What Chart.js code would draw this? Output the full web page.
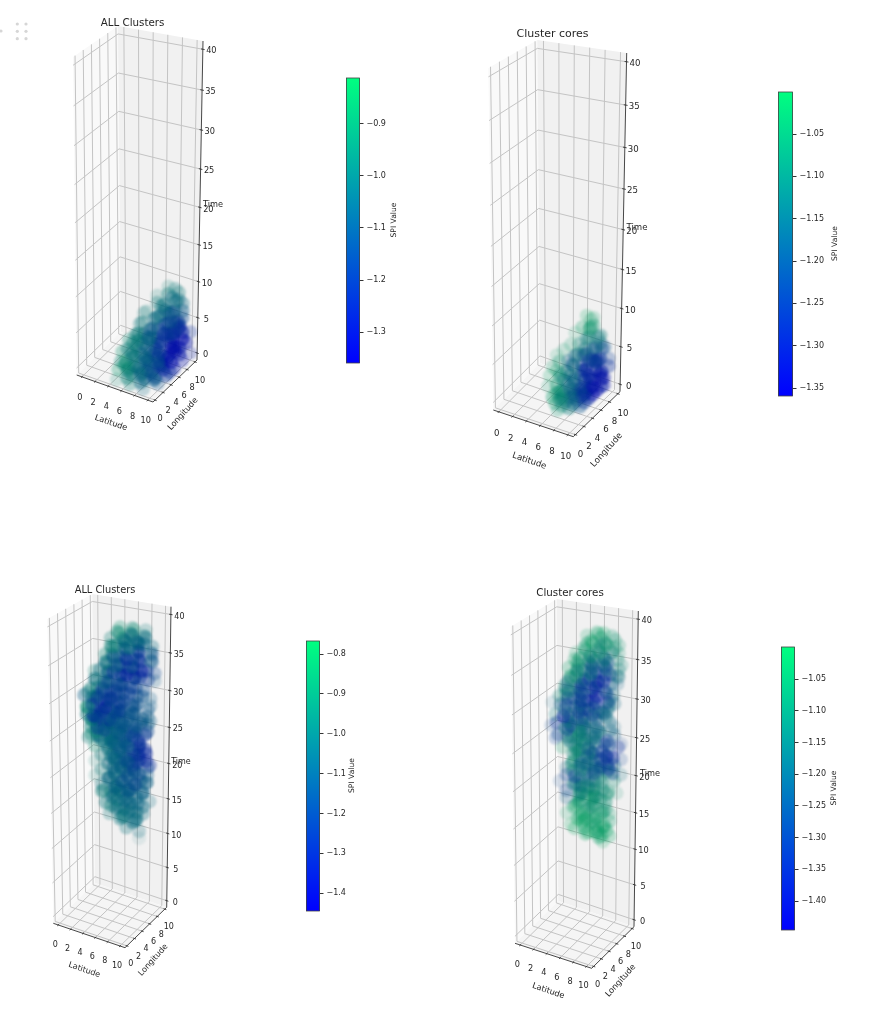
<!DOCTYPE html>
<html>
<head>
<meta charset="utf-8">
<title>SPI clusters</title>
<script src="https://cdn.jsdelivr.net/npm/chart.js@4"></script>
<style>
  html, body { margin: 0; background: #fff; }
  #page { position: relative; width: 869px; height: 1023px; overflow: hidden; }
  canvas { position: absolute; filter: blur(0.3px); }
</style>
</head>
<body>
<div id="page"><canvas id="boxes" width="869" height="1023" style="left:0;top:0"></canvas></div>
<script>
// ── Axis ticks ───────────────────────────────
const latTicks = [0, 2, 4, 6, 8, 10];
const lonTicks = [0, 2, 4, 6, 8, 10];
const timeTicks = [0, 5, 10, 15, 20, 25, 30, 35, 40];

// ── Panel 1: ALL Clusters (early events) ─────
const p1Time = [0,0,0,0,0,0,0,0,0,0,0,0,0,0,0,0,0, 2,2,2,2,2,2,2,2,2,2,2,2,2,2, 4,4,4,4,4,4,4,4,4,4,4,4, 6,6,6,6,6,6,6,6,6,6, 8,8,8,8,8,8, 10,10,10, 11,11];
const p1Lat = [5,7,9,4,6,8,10,4,6,8,10,6,8,10,8,10,10, 5,7,9,4,6,8,10,5,7,9,7,9,10,8, 6,8,5,7,9,6,8,10,7,9,9,10, 7,9,6,8,10,7,9,8,10,10, 7,9,8,10,9,10, 8,9,10, 9,10];
const p1Lon = [0,0,0,2,2,2,2,4,4,4,4,6,6,6,8,8,10, 1,1,1,3,3,3,3,5,5,5,7,7,9,9, 1,1,3,3,3,5,5,5,7,7,9,8, 2,2,4,4,4,6,6,8,7,8, 4,4,6,6,8,8, 5,6,7, 6,6];
const p1Spi = [-0.95,-0.98,-1.05,-0.9,-1,-1.08,-1.12,-0.92,-1.02,-1.12,-1.2,-1.05,-1.2,-1.3,-1.25,-1.33,-1.3,
  -0.95,-1.02,-1.1,-0.92,-1.02,-1.1,-1.2,-1.02,-1.12,-1.28,-1.2,-1.33,-1.32,-1.28,
  -1,-1.05,-0.95,-1.05,-1.15,-1.05,-1.18,-1.27,-1.15,-1.3,-1.25,-1.28,
  -1,-1.05,-1,-1.08,-1.15,-1.05,-1.18,-1.12,-1.2,-1.15,
  -0.98,-1.02,-1.02,-1.08,-1.02,-1.05, -0.98,-1,-1, -0.98,-1];
const p1OddTime = [0,0,0,0,0,0,0,0,0,0,0, 1,1,1,1,1,1,1,1,1,1,1,1,1, 3,3,3,3,3,3,3,3,3,3,3,3, 5,5,5,5,5,5,5,5,5, 7,7,7,7,7,7,7, 9,9,9,9];
const p1OddLat = [6,8,5,7,9,10,7,9,9,7,9, 6,8,10,5,7,9,5,7,9,7,9,9,9, 6,8,10,5,7,9,6,8,10,8,10,10, 7,6,8,7,9,8,10,9,10, 7,8,10,9,10,8,6, 8,9,9,10];
const p1OddLon = [1,1,3,3,3,5,5,5,7,7,9, 1,1,1,2,2,2,4,4,4,6,6,8,9, 2,2,2,4,4,4,6,6,6,8,8,10, 2,3,3,5,5,7,7,8,6, 3,5,5,7,8,7,5, 5,5,7,7];
const p1OddSpi = [-0.97,-1.05,-0.95,-1.05,-1.15,-1.25,-1.12,-1.25,-1.33,-1.18,-1.3,
  -0.98,-1.05,-1.1,-0.95,-1.05,-1.12,-1,-1.1,-1.2,-1.15,-1.3,-1.33,-1.3,
  -1,-1.06,-1.12,-0.98,-1.08,-1.2,-1.1,-1.22,-1.32,-1.22,-1.33,-1.25,
  -1,-0.98,-1.06,-1.1,-1.22,-1.18,-1.25,-1.2,-1.2,
  -1,-1.05,-1.12,-1.12,-1.1,-1.08,-1, -1,-1.02,-1.05,-1.05];

// ── Panel 2: Cluster cores (early events) ────
const p2Time = [0,0,0,0,0,0,0,0,0,0,0,0,0, 2,2,2,2,2,2,2,2,2,2,2,2, 4,4,4,4,4,4,4,4,4, 6,6,6,6,6,6, 8,8,8,8, 10,10];
const p2Lat = [6,7,8,5,7,9,6,8,9,7,8,9,9, 5,7,4,6,8,9,5,7,9,7,9,10, 5,7,9,6,8,10,7,9,10, 6,8,10,7,9,10, 7,9,8,10, 8,9];
const p2Lon = [3,2,3,4,4,4,5,5,6,6,7,8,9, 3,3,5,5,4,5,6,6,7,8,9,8, 4,4,4,6,6,6,8,8,9, 5,5,5,7,7,8, 6,6,8,7, 7,7];
const p2Spi = [-1.06,-1.06,-1.12,-1.05,-1.14,-1.2,-1.1,-1.2,-1.3,-1.2,-1.3,-1.34,-1.3,
  -1.05,-1.1,-1.04,-1.15,-1.18,-1.25,-1.12,-1.22,-1.34,-1.28,-1.32,-1.33,
  -1.05,-1.12,-1.18,-1.18,-1.25,-1.3,-1.22,-1.3,-1.25,
  -1.05,-1.12,-1.2,-1.1,-1.22,-1.2, -1.04,-1.1,-1.08,-1.12, -1.02,-1.04];
const p2OddTime = [0,0,0,0,0,0,0,0,0,0, 1,1,1,1,1,1,1,1,1,1,1,1, 3,3,3,3,3,3,3,3,3,3,3, 5,5,5,5,5,5,5,5,5, 7,7,7,7,7,7, 9,9,9,9];
const p2OddLat = [7,6,8,7,9,8,9,8,5,7, 6,8,7,5,7,9,6,8,8,9,9,10, 6,8,5,7,9,6,8,10,8,10,9, 6,8,7,9,5,8,10,9,10, 7,9,8,10,9,10, 8,9,8,9];
const p2OddLon = [3,4,4,5,5,6,7,8,5,7, 4,4,3,5,5,5,6,6,8,7,9,8, 4,4,5,5,5,7,7,7,9,9,6, 4,4,6,6,5,7,7,9,6, 5,5,7,6,8,7, 6,7,8,6];
const p2OddSpi = [-1.1,-1.1,-1.16,-1.16,-1.26,-1.26,-1.34,-1.28,-1.06,-1.24,
  -1.1,-1.18,-1.1,-1.06,-1.16,-1.26,-1.15,-1.25,-1.3,-1.34,-1.33,-1.33,
  -1.08,-1.16,-1.05,-1.15,-1.26,-1.2,-1.3,-1.32,-1.3,-1.28,-1.3,
  -1.07,-1.14,-1.16,-1.24,-1.04,-1.22,-1.26,-1.24,-1.24,
  -1.06,-1.14,-1.12,-1.16,-1.12,-1.15, -1.04,-1.06,-1.05,-1.06];

// ── Panel 3: ALL Clusters (late events) ──────
const p3Time = [11, 12,12, 14,14,14,14,14,14,14, 16,16,16,16,16,16,16,
  18,18,18,18,18,18,18,18,18,18, 20,20,20,20,20,20,20,20,20,20,
  22,22,22,22,22,22,22,22,22,22,22,22, 24,24,24,24,24,24,24,24,24,24,24,24,
  26,26,26,26,26,26,26,26,26,26,26,26,26, 28,28,28,28,28,28,28,28,28,28,28,28,28,28,
  30,30,30,30,30,30,30,30,30,30,30,30,30, 32,32,32,32,32,32,32,32,32,32,32,32,
  34,34,34,34,34,34,34,34,34,34,34,34, 36,36,36,36,36,36,36,36,36,36,
  38,38,38,38,38,38,38, 39,39];
const p3Lat = [9, 7,9, 5,7,9,4,6,8,9, 5,7,9,4,6,8,10,
  5,7,9,6,8,10,4,6,8,9, 4,6,8,10,5,7,9,4,6,9,
  4,6,8,10,5,7,9,10,3,5,7,8, 4,6,8,10,3,5,7,9,2,4,6,8,
  4,5,7,9,3,5,7,9,2,4,6,8,9, 4,5,7,9,3,4,6,8,10,1,3,5,7,9,
  4,6,8,9,3,5,7,9,2,4,6,8,10, 4,6,8,3,5,7,9,3,5,7,9,10,
  4,6,8,10,4,6,8,10,3,5,7,9, 5,7,9,4,6,8,10,5,7,9,
  7,9,5,7,9,6,8, 6,8];
const p3Lon = [6, 6,6, 5,5,5,7,7,7,7, 4,4,4,7,7,7,7,
  3,3,3,5,5,5,8,8,8,8, 3,3,3,3,6,6,6,8,8,8,
  3,3,3,3,6,6,6,6,9,9,9,9, 3,3,3,3,6,6,6,6,9,9,9,9,
  2,2,2,2,5,5,5,5,8,8,8,8,8, 2,2,2,2,5,5,5,5,5,8,8,8,8,8,
  1,1,1,1,4,4,4,4,7,7,7,7,7, 2,2,2,5,5,5,5,8,8,8,8,8,
  3,3,3,3,6,6,6,6,9,9,9,9, 4,4,4,7,7,7,7,9,9,9,
  5,5,7,7,7,9,9, 6,6];
const p3Spi = [-1.02, -1.02,-1.04, -1,-1.02,-1.05,-0.98,-1.02,-1.05,-1.05, -1,-1.04,-1.06,-1,-1.05,-1.08,-1.05,
  -0.98,-1.05,-1.1,-1.08,-1.12,-1.08,-1,-1.08,-1.12,-1.08, -0.95,-1.08,-1.12,-1.15,-1.1,-1.15,-1.2,-1,-1.12,-1.15,
  -0.95,-1.06,-1.12,-1.2,-1.08,-1.15,-1.28,-1.33,-1,-1.08,-1.2,-1.3, -0.92,-1.05,-1.1,-1.15,-1,-1.08,-1.2,-1.28,-0.95,-1.05,-1.18,-1.28,
  -0.92,-1.08,-1.12,-1.12,-1.02,-1.15,-1.12,-1.12,-1,-1.1,-1.12,-1.15,-1.12, -1,-1.28,-1.18,-1.1,-0.95,-1.32,-1.25,-1.15,-1.12,-0.98,-1.22,-1.18,-1.15,-1.15,
  -0.92,-1.2,-1.25,-1.12,-1.08,-1.33,-1.28,-1.18,-0.98,-1.22,-1.2,-1.18,-1.12, -1,-1.18,-1.15,-1,-1.18,-1.25,-1.22,-1.05,-1.2,-1.3,-1.28,-1.12,
  -0.95,-1.1,-1.2,-1.2,-1.05,-1.25,-1.33,-1.28,-1,-1.22,-1.33,-1.15, -0.95,-1.08,-1.12,-0.95,-1.1,-1.18,-1.1,-1,-1.12,-1.05,
  -0.95,-1,-0.92,-1,-1.02,-0.95,-1, -0.9,-0.92];
const p3OddTime = [13,13,13,13, 15,15,15,15,15, 17,17,17,17,17,17,17,17,
  19,19,19,19,19,19,19,19,19,19, 21,21,21,21,21,21,21,21,21,21,21,
  23,23,23,23,23,23,23,23,23,23,23, 25,25,25,25,25,25,25,25,25,25,25,25,
  27,27,27,27,27,27,27,27,27,27,27,27,27,27, 29,29,29,29,29,29,29,29,29,29,29,29,29,29,
  31,31,31,31,31,31,31,31,31,31,31,31, 33,33,33,33,33,33,33,33,33,33,33,
  35,35,35,35,35,35,35,35,35,35,35, 37,37,37,37,37,37,37,37,37];
const p3OddLat = [8,6,8,6, 6,8,5,7,9, 6,8,10,5,7,9,4,6,
  5,7,9,5,7,9,10,5,7,9, 5,7,9,6,8,4,6,8,10,4,7,
  5,7,9,4,6,8,10,3,5,7,4, 3,5,7,9,4,6,8,3,5,7,9,3,
  4,5,6,8,3,5,7,9,3,5,7,9,3,10, 4,5,6,8,3,5,7,9,2,4,6,8,10,3,
  3,5,7,4,6,8,10,3,5,7,9,3, 4,6,8,3,5,7,9,4,6,8,10,
  5,7,9,5,7,9,3,5,7,9,10, 6,8,4,6,8,9,4,6,8];
const p3OddLon = [6,7,7,6, 5,5,7,7,7, 4,4,4,7,7,7,5,6,
  3,3,3,5,5,5,6,8,8,8, 3,3,3,6,6,7,7,7,7,9,9,
  3,3,3,6,6,6,6,9,9,9,7, 3,3,3,3,6,6,6,8,8,8,8,5,
  2,2,2,2,5,5,5,5,8,8,8,8,4,7, 1,1,1,1,4,4,4,4,7,7,7,7,7,3,
  2,2,2,5,5,5,5,7,7,7,7,3, 3,3,3,6,6,6,6,8,8,8,8,
  4,4,4,6,6,6,9,9,9,9,7, 5,5,7,7,7,7,9,9,9];
const p3OddSpi = [-1.05,-1.02,-1.05,-1.02, -1.04,-1.05,-1.02,-1.06,-1.06, -1.05,-1.08,-1.08,-1.04,-1.1,-1.1,-1,-1.06,
  -1.02,-1.08,-1.12,-1.06,-1.14,-1.18,-1.12,-1.06,-1.12,-1.12, -1,-1.08,-1.15,-1.1,-1.2,-1.04,-1.14,-1.25,-1.3,-1.08,-1.28,
  -1,-1.08,-1.15,-1.02,-1.12,-1.25,-1.32,-1,-1.12,-1.28,-1.05, -0.98,-1.04,-1.1,-1.12,-1.1,-1.15,-1.22,-1,-1.12,-1.2,-1.2,-0.95,
  -0.98,-1.2,-1.16,-1.1,-1.25,-1.28,-1.15,-1.12,-1.05,-1.18,-1.14,-1.12,-0.95,-1.1, -1,-1.3,-1.2,-1.12,-1.3,-1.34,-1.22,-1.14,-1.1,-1.28,-1.2,-1.15,-1.12,-0.95,
  -1.1,-1.25,-1.2,-1.22,-1.25,-1.22,-1.15,-1.06,-1.2,-1.22,-1.18,-0.98, -1.05,-1.16,-1.18,-1.05,-1.25,-1.34,-1.26,-1.1,-1.3,-1.33,-1.2,
  -1.02,-1.12,-1.12,-1.15,-1.3,-1.25,-1,-1.15,-1.25,-1.18,-1.12, -0.98,-1.02,-0.98,-1.08,-1.1,-1.08,-0.95,-1.05,-1.06];

// ── Panel 4: Cluster cores (late events) ─────
const p4Time = [12, 13,13, 14,14,14,14,14,14, 16,16,16,16,16,16,16,
  18,18,18,18,18,18,18,18,18, 20,20,20,20,20,20,20,20,20,20,
  22,22,22,22,22,22,22,22,22,22,22, 24,24,24,24,24,24,24,24,24,24,24,
  26,26,26,26,26,26,26,26,26,26,26, 28,28,28,28,28,28,28,28,28,28,28,28,28,28,
  30,30,30,30,30,30,30,30,30,30,30,30, 32,32,32,32,32,32,32,32,32,32,32,32,
  34,34,34,34,34,34,34,34,34,34,34,34, 36,36,36,36,36,36,36,36,36,36,36,
  38,38,38,38,38,38,38, 39,39];
const p4Lat = [8, 7,9, 5,7,9,5,7,8, 6,8,10,4,6,8,9,
  6,8,10,5,7,9,4,6,8, 5,7,9,6,8,10,3,5,7,9,
  5,7,9,4,6,8,10,4,6,8,9, 6,8,10,5,7,9,10,3,5,7,9,
  5,7,9,4,6,8,10,3,5,7,9, 5,7,9,3,5,7,9,3,5,7,9,4,6,7,
  4,6,8,3,5,7,9,2,4,6,8,9, 4,6,8,3,5,7,9,10,2,4,6,8,
  5,7,9,3,5,7,9,10,3,5,7,9, 5,7,9,4,6,8,10,4,6,8,9,
  7,9,5,7,9,6,8, 7,8];
const p4Lon = [7, 7,7, 5,5,5,7,7,7, 4,4,4,7,7,7,7,
  3,3,3,6,6,6,8,8,8, 3,3,3,5,5,5,8,8,8,8,
  3,3,3,6,6,6,6,8,8,8,8, 3,3,3,6,6,6,6,9,9,9,9,
  2,2,2,5,5,5,5,8,8,8,8, 1,1,1,4,4,4,4,7,7,7,7,9,9,9,
  2,2,2,5,5,5,5,8,8,8,8,8, 3,3,3,6,6,6,6,6,9,9,9,9,
  4,4,4,7,7,7,7,7,9,9,9,9, 5,5,5,7,7,7,7,9,9,9,9,
  6,6,8,8,8,9,9, 7,7];
const p4Spi = [-1.02, -1.02,-1.03, -1.02,-1.04,-1.05,-1.03,-1.05,-1.05, -1.03,-1.06,-1.05,-1.02,-1.08,-1.1,-1.06,
  -1.05,-1.08,-1.05,-1.12,-1.1,-1.1,-1.05,-1.1,-1.1, -1.3,-1.12,-1.06,-1.22,-1.1,-1.08,-1.1,-1.28,-1.12,-1.1,
  -1.3,-1.15,-1.18,-1.08,-1.12,-1.22,-1.3,-1.1,-1.15,-1.28,-1.2, -1.1,-1.2,-1.32,-1.12,-1.25,-1.35,-1.38,-1.08,-1.2,-1.3,-1.35,
  -1.05,-1.12,-1.12,-1.15,-1.2,-1.18,-1.25,-1.08,-1.15,-1.18,-1.22, -1.28,-1.12,-1.12,-1.35,-1.38,-1.22,-1.18,-1.08,-1.22,-1.25,-1.2,-1.2,-1.22,-1.22,
  -1.15,-1.3,-1.28,-1.22,-1.25,-1.36,-1.25,-1.05,-1.2,-1.36,-1.38,-1.2, -1.12,-1.28,-1.35,-1.1,-1.25,-1.4,-1.35,-1.18,-1.08,-1.22,-1.38,-1.22,
  -1.08,-1.22,-1.25,-1.05,-1.2,-1.38,-1.32,-1.15,-1.06,-1.22,-1.35,-1.15, -1.05,-1.15,-1.15,-1.05,-1.15,-1.2,-1.12,-1.06,-1.15,-1.15,-1.08,
  -1.05,-1.05,-1.05,-1.1,-1.08,-1.06,-1.08, -1.03,-1.03];
const p4OddTime = [13,13,13, 15,15,15,15,15,15,15, 17,17,17,17,17,17,17,17, 19,19,19,19,19,19,19,19,19,
  21,21,21,21,21,21,21,21,21,21, 23,23,23,23,23,23,23,23,23,23, 25,25,25,25,25,25,25,25,25,25,
  27,27,27,27,27,27,27,27,27,27,27, 29,29,29,29,29,29,29,29,29,29,29,29,29,
  31,31,31,31,31,31,31,31,31,31,31,31,31,31, 33,33,33,33,33,33,33,33,33,33,33,33,33,
  35,35,35,35,35,35,35,35,35,35,35, 37,37,37,37,37,37,37,37];
const p4OddLat = [6,8,8, 5,7,9,5,7,9,6, 5,7,9,5,7,9,5,7, 5,7,9,6,8,4,6,8,10,
  4,6,8,5,7,9,4,6,8,10, 5,7,9,6,8,10,4,6,8,10, 6,8,10,5,7,9,4,6,8,10,
  4,6,8,4,6,8,3,5,7,9,9, 4,6,8,4,6,8,3,5,7,9,4,6,8,
  3,5,7,4,6,8,10,3,5,7,9,3,5,7, 5,7,4,6,8,4,6,8,10,3,5,7,9,
  6,8,5,7,9,4,6,8,10,5,7, 6,8,5,7,9,5,7,9];
const p4OddLon = [6,6,8, 4,4,4,7,7,7,6, 3,3,3,6,6,6,8,8, 3,3,3,5,5,7,7,7,7,
  3,3,3,5,5,5,8,8,8,8, 3,3,3,5,5,5,8,8,8,8, 3,3,3,5,5,5,8,8,8,8,
  2,2,2,5,5,5,7,7,7,7,8, 1,1,1,4,4,4,6,6,6,6,8,8,8,
  3,3,3,5,5,5,5,7,7,7,7,9,9,9, 3,3,5,5,5,7,7,7,7,9,9,9,9,
  4,4,6,6,6,8,8,8,8,9,9, 6,6,8,8,8,9,9,9];
const p4OddSpi = [-1.03,-1.05,-1.04, -1.02,-1.05,-1.06,-1.03,-1.06,-1.06,-1.04, -1.04,-1.06,-1.06,-1.06,-1.1,-1.08,-1.06,-1.1,
  -1.22,-1.1,-1.08,-1.15,-1.12,-1.2,-1.15,-1.12,-1.08,
  -1.28,-1.15,-1.12,-1.3,-1.18,-1.12,-1.2,-1.22,-1.16,-1.18, -1.2,-1.15,-1.25,-1.22,-1.22,-1.32,-1.12,-1.22,-1.32,-1.3,
  -1.12,-1.22,-1.3,-1.12,-1.25,-1.32,-1.1,-1.2,-1.32,-1.3,
  -1.3,-1.18,-1.14,-1.32,-1.2,-1.18,-1.15,-1.2,-1.22,-1.2,-1.2, -1.28,-1.15,-1.12,-1.38,-1.25,-1.2,-1.2,-1.3,-1.28,-1.18,-1.18,-1.22,-1.2,
  -1.2,-1.3,-1.28,-1.28,-1.34,-1.34,-1.18,-1.15,-1.3,-1.38,-1.22,-1.12,-1.22,-1.25,
  -1.18,-1.28,-1.2,-1.34,-1.38,-1.12,-1.32,-1.4,-1.22,-1.06,-1.2,-1.3,-1.18,
  -1.15,-1.18,-1.12,-1.25,-1.18,-1.08,-1.2,-1.25,-1.12,-1.1,-1.15, -1.08,-1.08,-1.06,-1.12,-1.1,-1.05,-1.1,-1.08];

// ── Colour bar ticks ─────────────────────────
const bar1Ticks = [-0.9, -1.0, -1.1, -1.2, -1.3];
const bar2Ticks = [-1.05, -1.10, -1.15, -1.20, -1.25, -1.30, -1.35];
const bar3Ticks = [-0.8, -0.9, -1.0, -1.1, -1.2, -1.3, -1.4];
const bar4Ticks = [-1.05, -1.10, -1.15, -1.20, -1.25, -1.30, -1.35, -1.40];

// Grey drag handle in the screenshot corner
const handleX = [17.3, 26, 17.3, 26, 17.3, 26, 1];
const handleY = [24, 24, 31.3, 31.3, 38.7, 38.7, 31];

// ── Panel layout: box corners in page pixels, label anchors ──
const LAT_RANGE = [-0.8, 10.8], LON_RANGE = [-0.5, 10.5], TIME_RANGE = [-1, 41];
const panels = [
  { title: "ALL Clusters", titleAt: [132.5, 23], titleSize: 10.3, tick: 8.2, label: 8.2, fade: 1,
    floor: { L: [76.7, 375], F: [153, 402], R: [197, 360], B: [120.7, 332] },
    roof: { L: [73, 57], R: [203, 41], B: [118, 26] },
    timeAt: [213, 205], latAt: [111, 423], lonAt: [183, 414],
    latOff: [-2, 21], lonOff: [5, 18.5],
    lat: [...p1Lat, ...p1OddLat], lon: [...p1Lon, ...p1OddLon], time: [...p1Time, ...p1OddTime], spi: [...p1Spi, ...p1OddSpi], range: [-1.3587, -0.8126] },
  { title: "Cluster cores", titleAt: [552.5, 34], titleSize: 11, tick: 8.6, label: 8.6, fade: 0.9,
    floor: { L: [493.3, 410], F: [573.3, 436.7], R: [620, 391.7], B: [540, 363] },
    roof: { L: [488.3, 68], R: [626.7, 53], B: [537.3, 40] },
    timeAt: [637, 228], latAt: [529.3, 461], lonAt: [606.7, 450],
    latOff: [-2, 22], lonOff: [5, 20],
    lat: [...p2Lat, ...p2OddLat], lon: [...p2Lon, ...p2OddLon], time: [...p2Time, ...p2OddTime], spi: [...p2Spi, ...p2OddSpi], range: [-1.3594, -1.0004] },
  { title: "ALL Clusters", titleAt: [105, 590], titleSize: 9.8, tick: 8, label: 8, fade: 1,
    floor: { L: [53.3, 923.3], F: [125, 947.7], R: [166.7, 907.3], B: [95, 883] },
    roof: { L: [47.3, 619], R: [171, 606.7], B: [92.3, 594] },
    timeAt: [181, 762], latAt: [84.3, 970], lonAt: [153.3, 960],
    latOff: [-3, 19.5], lonOff: [4, 18],
    lat: [...p3Lat, ...p3OddLat], lon: [...p3Lon, ...p3OddLon], time: [...p3Time, ...p3OddTime], spi: [...p3Spi, ...p3OddSpi], range: [-1.445, -0.767] },
  { title: "Cluster cores", titleAt: [570, 593.5], titleSize: 10.3, tick: 8.2, label: 8.2, fade: 0.85,
    floor: { L: [515, 943.3], F: [591.7, 968.3], R: [634, 926.7], B: [558.3, 901] },
    roof: { L: [510.7, 626.7], R: [638.3, 611], B: [556.7, 599] },
    timeAt: [650, 774], latAt: [548.3, 991], lonAt: [620.7, 980.7],
    latOff: [-3, 19.5], lonOff: [4, 18.3],
    lat: [...p4Lat, ...p4OddLat], lon: [...p4Lon, ...p4OddLon], time: [...p4Time, ...p4OddTime], spi: [...p4Spi, ...p4OddSpi], range: [-1.4457, -0.9995] },
];

const FONT = '"DejaVu Sans", sans-serif';
const INK = "#262626";

const lerp = (a, b, s) => a + (b - a) * s;
const lerp2 = (p, q, s) => [lerp(p[0], q[0], s), lerp(p[1], q[1], s)];

// Projects lat/lon/time through the box corners. The roof's front corner is hidden
// in the reference so it's taken from the other three.
function project(panel, lat, lon, t) {
  const a = (lat - LAT_RANGE[0]) / (LAT_RANGE[1] - LAT_RANGE[0]);
  const b = (lon - LON_RANGE[0]) / (LON_RANGE[1] - LON_RANGE[0]);
  const u = (t - TIME_RANGE[0]) / (TIME_RANGE[1] - TIME_RANGE[0]);
  const s = u / (1 + 0.09 * (1 - u)); // slight perspective along time
  const { floor, roof } = panel;
  const roofF = [roof.L[0] + roof.R[0] - roof.B[0], roof.L[1] + roof.R[1] - roof.B[1]];
  const low = lerp2(lerp2(floor.L, floor.F, a), lerp2(floor.B, floor.R, a), b);
  const high = lerp2(lerp2(roof.L, roofF, a), lerp2(roof.B, roof.R, a), b);
  const p = lerp2(low, high, s);
  return { x: p[0], y: p[1] };
}

const normOf = (v, range) => Math.min(1, Math.max(0, (v - range[0]) / (range[1] - range[0])));

// Winter colormap, a bit darkened like the depth-shaded markers of the original
function winter(v, range, alpha) {
  const n = normOf(v, range);
  const shade = 0.68;
  return `rgba(0,${Math.round(255 * n * shade)},${Math.round(255 * (1 - n / 2) * shade)},${alpha})`;
}

function gridSegments(panel) {
  const [a0, a1] = LAT_RANGE, [b0, b1] = LON_RANGE, [t0, t1] = TIME_RANGE;
  const out = [];
  const seg = (p, q) => out.push(project(panel, ...p), project(panel, ...q), { x: NaN, y: NaN });
  latTicks.forEach((v) => { seg([v, b0, t0], [v, b1, t0]); seg([v, b1, t0], [v, b1, t1]); });
  lonTicks.forEach((v) => { seg([a0, v, t0], [a1, v, t0]); seg([a0, v, t0], [a0, v, t1]); });
  timeTicks.forEach((v) => { seg([a0, b0, v], [a0, b1, v]); seg([a0, b1, v], [a1, b1, v]); });
  return out;
}

function axisSegments(panel) {
  const [a0, a1] = LAT_RANGE, [b0, b1] = LON_RANGE, [t0, t1] = TIME_RANGE;
  const out = [];
  const seg = (p, q) => out.push(project(panel, ...p), project(panel, ...q), { x: NaN, y: NaN });
  seg([a0, b0, t0], [a1, b0, t0]);
  seg([a1, b0, t0], [a1, b1, t0]);
  seg([a1, b1, t0], [a1, b1, t1]);
  latTicks.forEach((v) => seg([v, b0 - 0.25, t0], [v, b0 + 0.2, t0]));
  lonTicks.forEach((v) => seg([a1 + 0.25, v, t0], [a1 - 0.2, v, t0]));
  timeTicks.forEach((v) => seg([a1 + 0.25, b1, v], [a1 - 0.25, b1, v]));
  return out;
}

function pointsOf(panel) {
  return panel.lat.map((v, i) => {
    const p = project(panel, v, panel.lon[i], panel.time[i]);
    return { ...p, spi: panel.spi[i] };
  });
}

// Pale on the rim, denser inside: the original has many more markers than read here.
// Greener (weaker) cells are thinner in the reference than the blue cores.
function pointColors(panel, pts) {
  return pts.map((p) => {
    let near = 0;
    pts.forEach((q) => { if (q !== p && Math.hypot(p.x - q.x, p.y - q.y) < 14) near++; });
    const base = Math.min(0.55, 0.07 + 0.04 * near);
    const alpha = base * panel.fade * (1 - 0.35 * normOf(p.spi, panel.range));
    return winter(p.spi, panel.range, alpha.toFixed(3));
  });
}

const datasets = [];
panels.forEach((panel) => {
  const pts = pointsOf(panel);
  datasets.push({ data: gridSegments(panel), showLine: true, pointRadius: 0, borderColor: "#c4c4c4", borderWidth: 1, order: 6 });
  datasets.push({ data: axisSegments(panel), showLine: true, pointRadius: 0, borderColor: "#333", borderWidth: 0.9, order: 5 });
  datasets.push({ data: pts, cloud: true, pointRadius: 7, pointBorderWidth: 0, pointBackgroundColor: pointColors(panel, pts), order: 3 });
});
datasets.push({ data: handleX.map((x, i) => ({ x, y: handleY[i] })), pointRadius: 1.6, pointBorderWidth: 0, pointBackgroundColor: "#d6d6d6", order: 1 });

function polygon(ctx, chart, corners, color) {
  const { x, y } = chart.scales;
  ctx.beginPath();
  corners.forEach((c, i) => {
    const px = x.getPixelForValue(c.x), py = y.getPixelForValue(c.y);
    if (i) ctx.lineTo(px, py); else ctx.moveTo(px, py);
  });
  ctx.closePath();
  ctx.fillStyle = color;
  ctx.fill();
}

const panesPlugin = {
  id: "panes",
  beforeDatasetsDraw(chart) {
    const { ctx } = chart;
    const [a0, a1] = LAT_RANGE, [b0, b1] = LON_RANGE, [t0, t1] = TIME_RANGE;
    panels.forEach((p) => {
      const c = (a, b, t) => project(p, a, b, t);
      polygon(ctx, chart, [c(a0, b0, t0), c(a0, b1, t0), c(a0, b1, t1), c(a0, b0, t1)], "#f9f9f9");
      polygon(ctx, chart, [c(a0, b1, t0), c(a1, b1, t0), c(a1, b1, t1), c(a0, b1, t1)], "#f1f1f1");
      polygon(ctx, chart, [c(a0, b0, t0), c(a1, b0, t0), c(a1, b1, t0), c(a0, b1, t0)], "#f5f5f5");
    });
  },
  // soft edge on the cloud markers so they merge into one mass
  beforeDatasetDraw(chart, args) {
    if (chart.data.datasets[args.index].cloud) chart.ctx.filter = "blur(1px)";
  },
  afterDatasetDraw(chart) {
    chart.ctx.filter = "none";
  },
};

function text(ctx, str, x, y, size, rot) {
  ctx.save();
  ctx.translate(x, y);
  if (rot) ctx.rotate((rot * Math.PI) / 180);
  ctx.font = `${size}px ${FONT}`;
  ctx.fillStyle = INK;
  ctx.textAlign = "center";
  ctx.textBaseline = "middle";
  ctx.fillText(str, 0, 0);
  ctx.restore();
}

const labelsPlugin = {
  id: "labels",
  afterDraw(chart) {
    const { ctx } = chart;
    const [a0, a1] = LAT_RANGE, [b0, b1] = LON_RANGE;
    panels.forEach((p) => {
      text(ctx, p.title, p.titleAt[0], p.titleAt[1], p.titleSize);
      timeTicks.forEach((v) => {
        const q = project(p, a1, b1, v);
        text(ctx, String(v), q.x + 8.5, q.y + 2, p.tick);
      });
      latTicks.forEach((v) => {
        const q = project(p, v, b0, TIME_RANGE[0]);
        text(ctx, String(v), q.x + p.latOff[0], q.y + p.latOff[1], p.tick);
      });
      lonTicks.forEach((v) => {
        const q = project(p, a1, v, TIME_RANGE[0]);
        text(ctx, String(v), q.x + p.lonOff[0], q.y + p.lonOff[1], p.tick);
      });
      text(ctx, "Time", p.timeAt[0], p.timeAt[1], p.label);
      text(ctx, "Latitude", p.latAt[0], p.latAt[1], p.label, 19);
      text(ctx, "Longitude", p.lonAt[0], p.lonAt[1], p.label, -48);
    });
  },
};

new Chart(document.getElementById("boxes"), {
  type: "scatter",
  data: { datasets },
  options: {
    responsive: false,
    animation: false,
    events: [],
    layout: { padding: 0, autoPadding: false },
    scales: {
      x: { type: "linear", display: false, min: 0, max: 869 },
      y: { type: "linear", display: false, min: 0, max: 1023, reverse: true },
    },
    plugins: { legend: { display: false }, tooltip: { enabled: false } },
  },
  plugins: [panesPlugin, labelsPlugin],
});

// ── Colour bars ──────────────────────────────
const bars = [
  { left: 345.5, top: 77.5, w: 14.5, h: 285.5, ticks: bar1Ticks, digits: 1, labelOff: 34, range: [-1.3587, -0.8126] },
  { left: 778, top: 92, w: 15, h: 304, ticks: bar2Ticks, digits: 2, labelOff: 42, range: [-1.3594, -1.0004] },
  { left: 306, top: 641, w: 14, h: 270, ticks: bar3Ticks, digits: 1, labelOff: 32, range: [-1.445, -0.767] },
  { left: 781, top: 647, w: 14, h: 283, ticks: bar4Ticks, digits: 2, labelOff: 39, range: [-1.4457, -0.9995] },
];

bars.forEach((bar) => {
  const axisWidth = 60;
  const canvas = document.createElement("canvas");
  canvas.width = bar.w + axisWidth;
  canvas.height = bar.h + 4;
  canvas.style.left = bar.left + "px";
  canvas.style.top = bar.top - 2 + "px";
  document.getElementById("page").appendChild(canvas);
  new Chart(canvas, {
    type: "bar",
    data: {
      labels: ["SPI Value"],
      datasets: [{
        data: [bar.range],
        barPercentage: 1,
        categoryPercentage: 1,
        borderWidth: 0,
        backgroundColor: (c) => {
          const area = c.chart.chartArea;
          if (!area) return "#00ff80";
          const g = c.chart.ctx.createLinearGradient(0, area.bottom, 0, area.top);
          g.addColorStop(0, "#0000ff");
          g.addColorStop(1, "#00ff80");
          return g;
        },
      }],
    },
    options: {
      responsive: false,
      animation: false,
      events: [],
      layout: { padding: { top: 2, bottom: 2, left: 0, right: 0 }, autoPadding: false },
      scales: {
        x: { display: false },
        y: {
          position: "right",
          min: bar.range[0],
          max: bar.range[1],
          afterBuildTicks: (s) => { s.ticks = bar.ticks.map((value) => ({ value })); },
          // the tick labels must not shrink the bar: it has to span the full height
          afterFit: (s) => { s.width = axisWidth; s.paddingTop = 0; s.paddingBottom = 0; },
          grid: { drawOnChartArea: false, drawTicks: true, tickLength: 3.5, color: "#333" },
          border: { display: false },
          ticks: {
            color: INK,
            padding: 3,
            font: { family: FONT, size: 8 },
            callback: (v) => "\u2212" + Math.abs(v).toFixed(bar.digits),
          },
        },
      },
      plugins: { legend: { display: false }, tooltip: { enabled: false } },
    },
    plugins: [{
      id: "barFrame",
      afterDraw(chart) {
        const { ctx, chartArea: a } = chart;
        ctx.save();
        ctx.strokeStyle = "#444";
        ctx.lineWidth = 0.8;
        ctx.strokeRect(a.left + 0.4, a.top, a.right - a.left - 0.8, a.bottom - a.top);
        ctx.restore();
        text(ctx, "SPI Value", a.right + bar.labelOff, (a.top + a.bottom) / 2 - 0.5, 7.6, -90);
      },
    }],
  });
});
</script>
</body>
</html>
